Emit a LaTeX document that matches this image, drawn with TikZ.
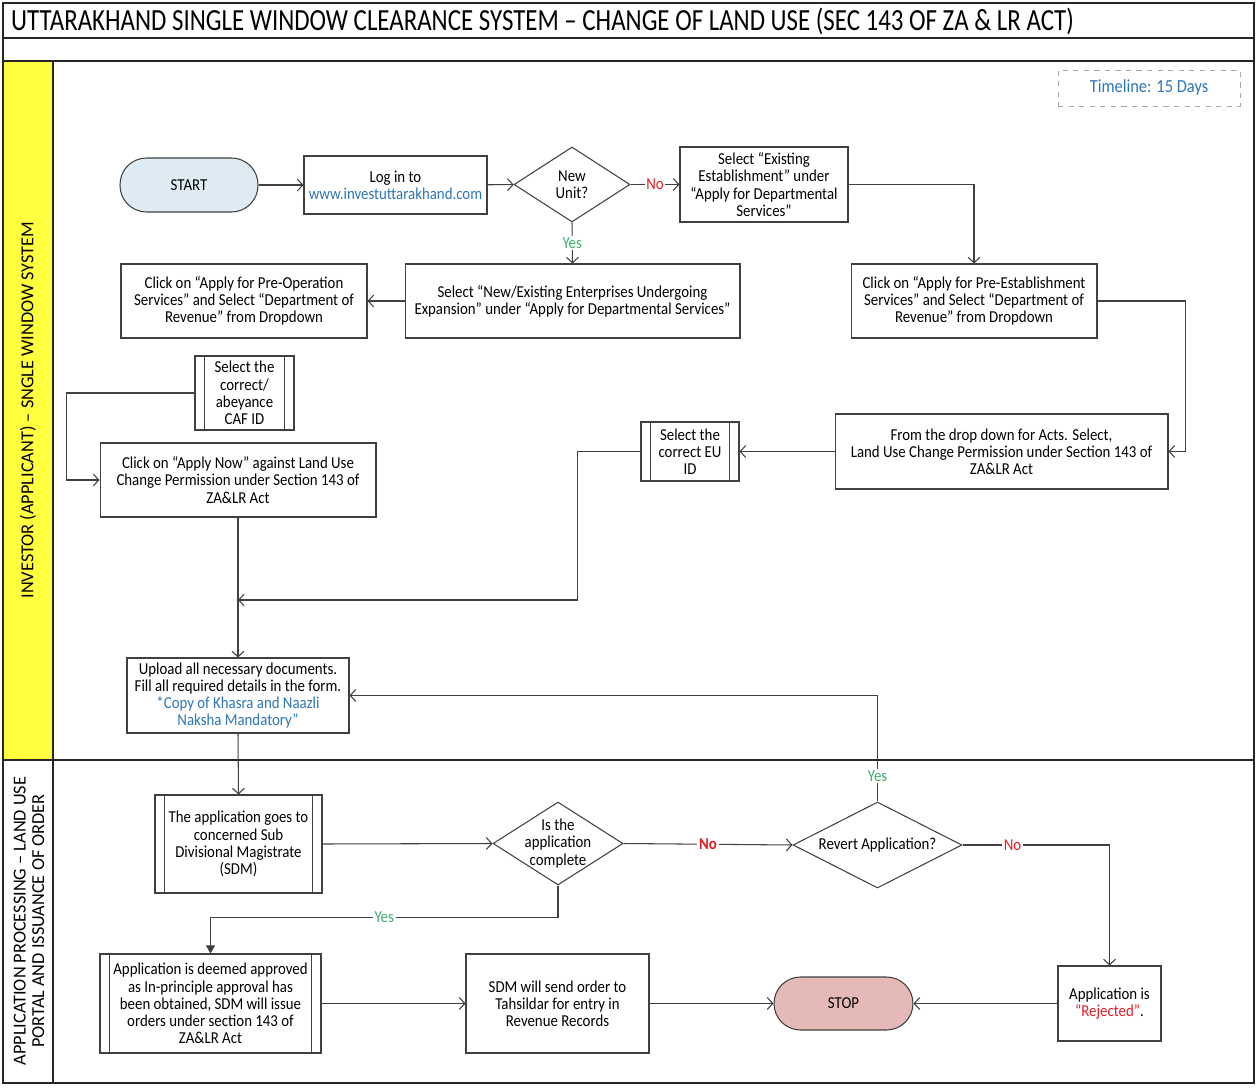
\documentclass[tikz,border=0pt]{standalone}
\usepackage{fontspec}
\setmainfont{Carlito}
\newfontfamily\boxfont{Carlito}[FakeStretch=0.89]
\newfontfamily\titlefont{Carlito}[FakeStretch=0.81]
\usetikzlibrary{shapes.geometric,arrows.meta}
\definecolor{lineg}{RGB}{64,64,64}
\definecolor{tblue}{RGB}{46,117,182}
\definecolor{tred}{RGB}{228,28,36}
\definecolor{tgreen}{RGB}{60,175,110}
\definecolor{startfill}{RGB}{222,235,242}
\definecolor{stopfill}{RGB}{228,185,184}
\definecolor{laneyellow}{RGB}{255,255,64}
\begin{document}
\begin{tikzpicture}[x=0.02cm,y=-0.02cm,
  txt/.style={font=\boxfont\fontsize{9.5}{9.8}\selectfont},
  box/.style={txt, draw=lineg, line width=0.6pt, align=center, inner sep=2pt},
  predef/.style={box},
  term/.style={box, rounded corners=0.53cm},
  decision/.style={txt, draw=lineg, line width=0.6pt, diamond, align=center, inner sep=0pt},
  conn/.style={draw=lineg, line width=0.6pt, -{Straight Barb[length=1.1mm,width=2.4mm]}},
  plain/.style={draw=lineg, line width=0.6pt},
  lbl/.style={txt, fill=white, inner sep=1pt},
  lane/.style={draw=black!85, line width=1pt}]
\useasboundingbox (0,0) rectangle (1258,1088);
% swimlanes
\fill[laneyellow] (3,61) rectangle (53,760);
\draw[lane] (3,3) rectangle (1254,1083);
\draw[lane] (3,38) -- (1254,38);
\draw[lane] (3,61) -- (1254,61);
\draw[lane] (3,760) -- (1254,760);
\draw[lane] (53,61) -- (53,1083);
\node[anchor=west, font=\titlefont\fontsize{17.5}{19}\selectfont] (title) at (5,21)
  {UTTARAKHAND SINGLE WINDOW CLEARANCE SYSTEM – CHANGE OF LAND USE (SEC 143 OF ZA \& LR ACT)};
\node[rotate=90, font=\fontsize{10.4}{12}\selectfont] (lane1) at (28,410)
  {INVESTOR (APPLICANT) – SNGLE WINDOW SYSTEM};
\node[rotate=90, align=center, font=\fontsize{10.4}{10.6}\selectfont] (lane2) at (29,921)
  {APPLICATION PROCESSING – LAND USE\\PORTAL AND ISSUANCE OF ORDER};
% timeline
\node[txt, font=\boxfont\fontsize{10.5}{12}\selectfont, draw=black!35, dashed, line width=0.5pt, minimum width=3.64cm, minimum height=0.72cm, text=tblue] (timeline) at (1149,88) {Timeline: 15 Days};
% lane 1 nodes
\node[term, fill=startfill, minimum width=2.76cm, minimum height=1.08cm] (start) at (189,185) {START};
\node[box, minimum width=3.66cm, minimum height=1.16cm] (login) at (395.5,185) {Log in to\\\textcolor{tblue}{www.investuttarakhand.com}};
\node[decision, aspect=1.55, minimum width=2.32cm, minimum height=1.5cm] (newunit) at (572,184.5) {New\\Unit?};
\node[box, minimum width=3.36cm, minimum height=1.5cm] (existing) at (764,184.5) {Select “Existing\\Establishment” under\\“Apply for Departmental\\Services”};
\node[box, minimum width=6.7cm, minimum height=1.48cm] (newexp) at (572.5,301) {Select “New/Existing Enterprises Undergoing\\Expansion” under “Apply for Departmental Services”};
\node[box, minimum width=4.92cm, minimum height=1.48cm] (preop) at (244,301) {Click on “Apply for Pre-Operation\\Services” and Select “Department of\\Revenue” from Dropdown};
\node[box, minimum width=4.92cm, minimum height=1.48cm] (preest) at (974,301) {Click on “Apply for Pre-Establishment\\Services” and Select “Department of\\Revenue” from Dropdown};
\node[box, minimum width=6.66cm, minimum height=1.5cm] (dropdown) at (1001.5,451.5) {From the drop down for Acts. Select,\\Land Use Change Permission under Section 143 of\\ZA\&LR Act};
\node[predef, minimum width=1.96cm, minimum height=1.18cm] (euid) at (690,451.5) {Select the\\correct EU\\ID};
\node[predef, minimum width=1.98cm, minimum height=1.48cm] (caf) at (244.5,393) {Select the\\correct/\\abeyance\\CAF ID};
\node[box, minimum width=5.52cm, minimum height=1.48cm] (applynow) at (238,480) {Click on “Apply Now” against Land Use\\Change Permission under Section 143 of\\ZA\&LR Act};
\node[box, minimum width=4.44cm, minimum height=1.5cm] (upload) at (238,695.5) {Upload all necessary documents.\\Fill all required details in the form.\\\textcolor{tblue}{*Copy of Khasra and Naazli}\\\textcolor{tblue}{Naksha Mandatory”}};
\coordinate (j1) at (238,600);
% lane 2 nodes
\node[predef, minimum width=3.34cm, minimum height=1.96cm] (sdm) at (238.5,844) {The application goes to\\concerned Sub\\Divisional Magistrate\\(SDM)};
\node[decision, aspect=1.57, inner sep=-3.5pt, minimum width=2.6cm, minimum height=1.66cm] (complete) at (558,843.5) {Is the\\application\\complete};
\node[decision, aspect=1.97, minimum width=3.38cm, minimum height=1.72cm] (revert) at (877.5,845) {Revert Application?};
\node[box, minimum width=2.06cm, minimum height=1.5cm] (rejected) at (1109.5,1003.5) {Application is\\\textcolor{tred}{“Rejected”}.};
\node[term, fill=stopfill, minimum width=2.78cm, minimum height=1.06cm] (stop) at (843.5,1003.5) {STOP};
\node[predef, minimum width=4.42cm, minimum height=1.98cm] (deemed) at (210.5,1003.5) {Application is deemed approved\\as In-principle approval has\\been obtained, SDM will issue\\orders under section 143 of\\ZA\&LR Act};
\node[box, minimum width=3.66cm, minimum height=1.98cm] (sdmsend) at (557.5,1003.5) {SDM will send order to\\Tahsildar for entry in\\Revenue Records};
% predefined-process inner lines
\foreach \n in {euid,caf,sdm,deemed}{
  \draw[plain] ([xshift=0.2cm]\n.north west) -- ([xshift=0.2cm]\n.south west);
  \draw[plain] ([xshift=-0.2cm]\n.north east) -- ([xshift=-0.2cm]\n.south east);
}
% connectors lane 1
\draw[conn] (start) -- (login);
\draw[conn] (login) -- (newunit);
\draw[conn] (newunit.east) -- (existing.west) node[lbl, midway, text=tred] {No};
\draw[conn] (newunit.south) -- (newexp.north) node[lbl, pos=0.5, text=tgreen] {Yes};
\draw[conn] (existing.east) -| (preest.north);
\draw[conn] (newexp.west) -- (preop.east);
\draw[conn] (preest.east) -- ++(88,0) |- (dropdown.east);
\draw[conn] (dropdown.west) -- (euid.east);
\draw[conn] (euid.west) -- ++(-63,0) |- (j1);
\draw[conn] (caf.west) -- ++(-128,0) |- (applynow.west);
\draw[conn] (applynow.south) -- (upload.north);
% connectors lane 2
\draw[conn] (upload.south) -- (sdm.north);
\draw[conn] (sdm.east) -- (complete.west);
\draw[conn] (complete.east) -- (revert.west) node[lbl, pos=0.5, text=tred, font=\boxfont\bfseries\fontsize{9.5}{9.8}\selectfont] {No};
\draw[conn] (revert.north) |- (upload.east) node[lbl, pos=0.12, text=tgreen] {Yes};
\draw[conn] (revert.east) -| (rejected.north) node[lbl, pos=0.17, text=tred] {No};
\draw[conn] (rejected.west) -- (stop.east);
\draw[plain, -{Triangle[length=1.6mm,width=1.8mm]}] (complete.south) -- ++(0,32) -| (deemed.north) node[lbl, pos=0.25, text=tgreen] {Yes};
\draw[conn] (deemed.east) -- (sdmsend.west);
\draw[conn] (sdmsend.east) -- (stop.west);
\end{tikzpicture}
\end{document}
